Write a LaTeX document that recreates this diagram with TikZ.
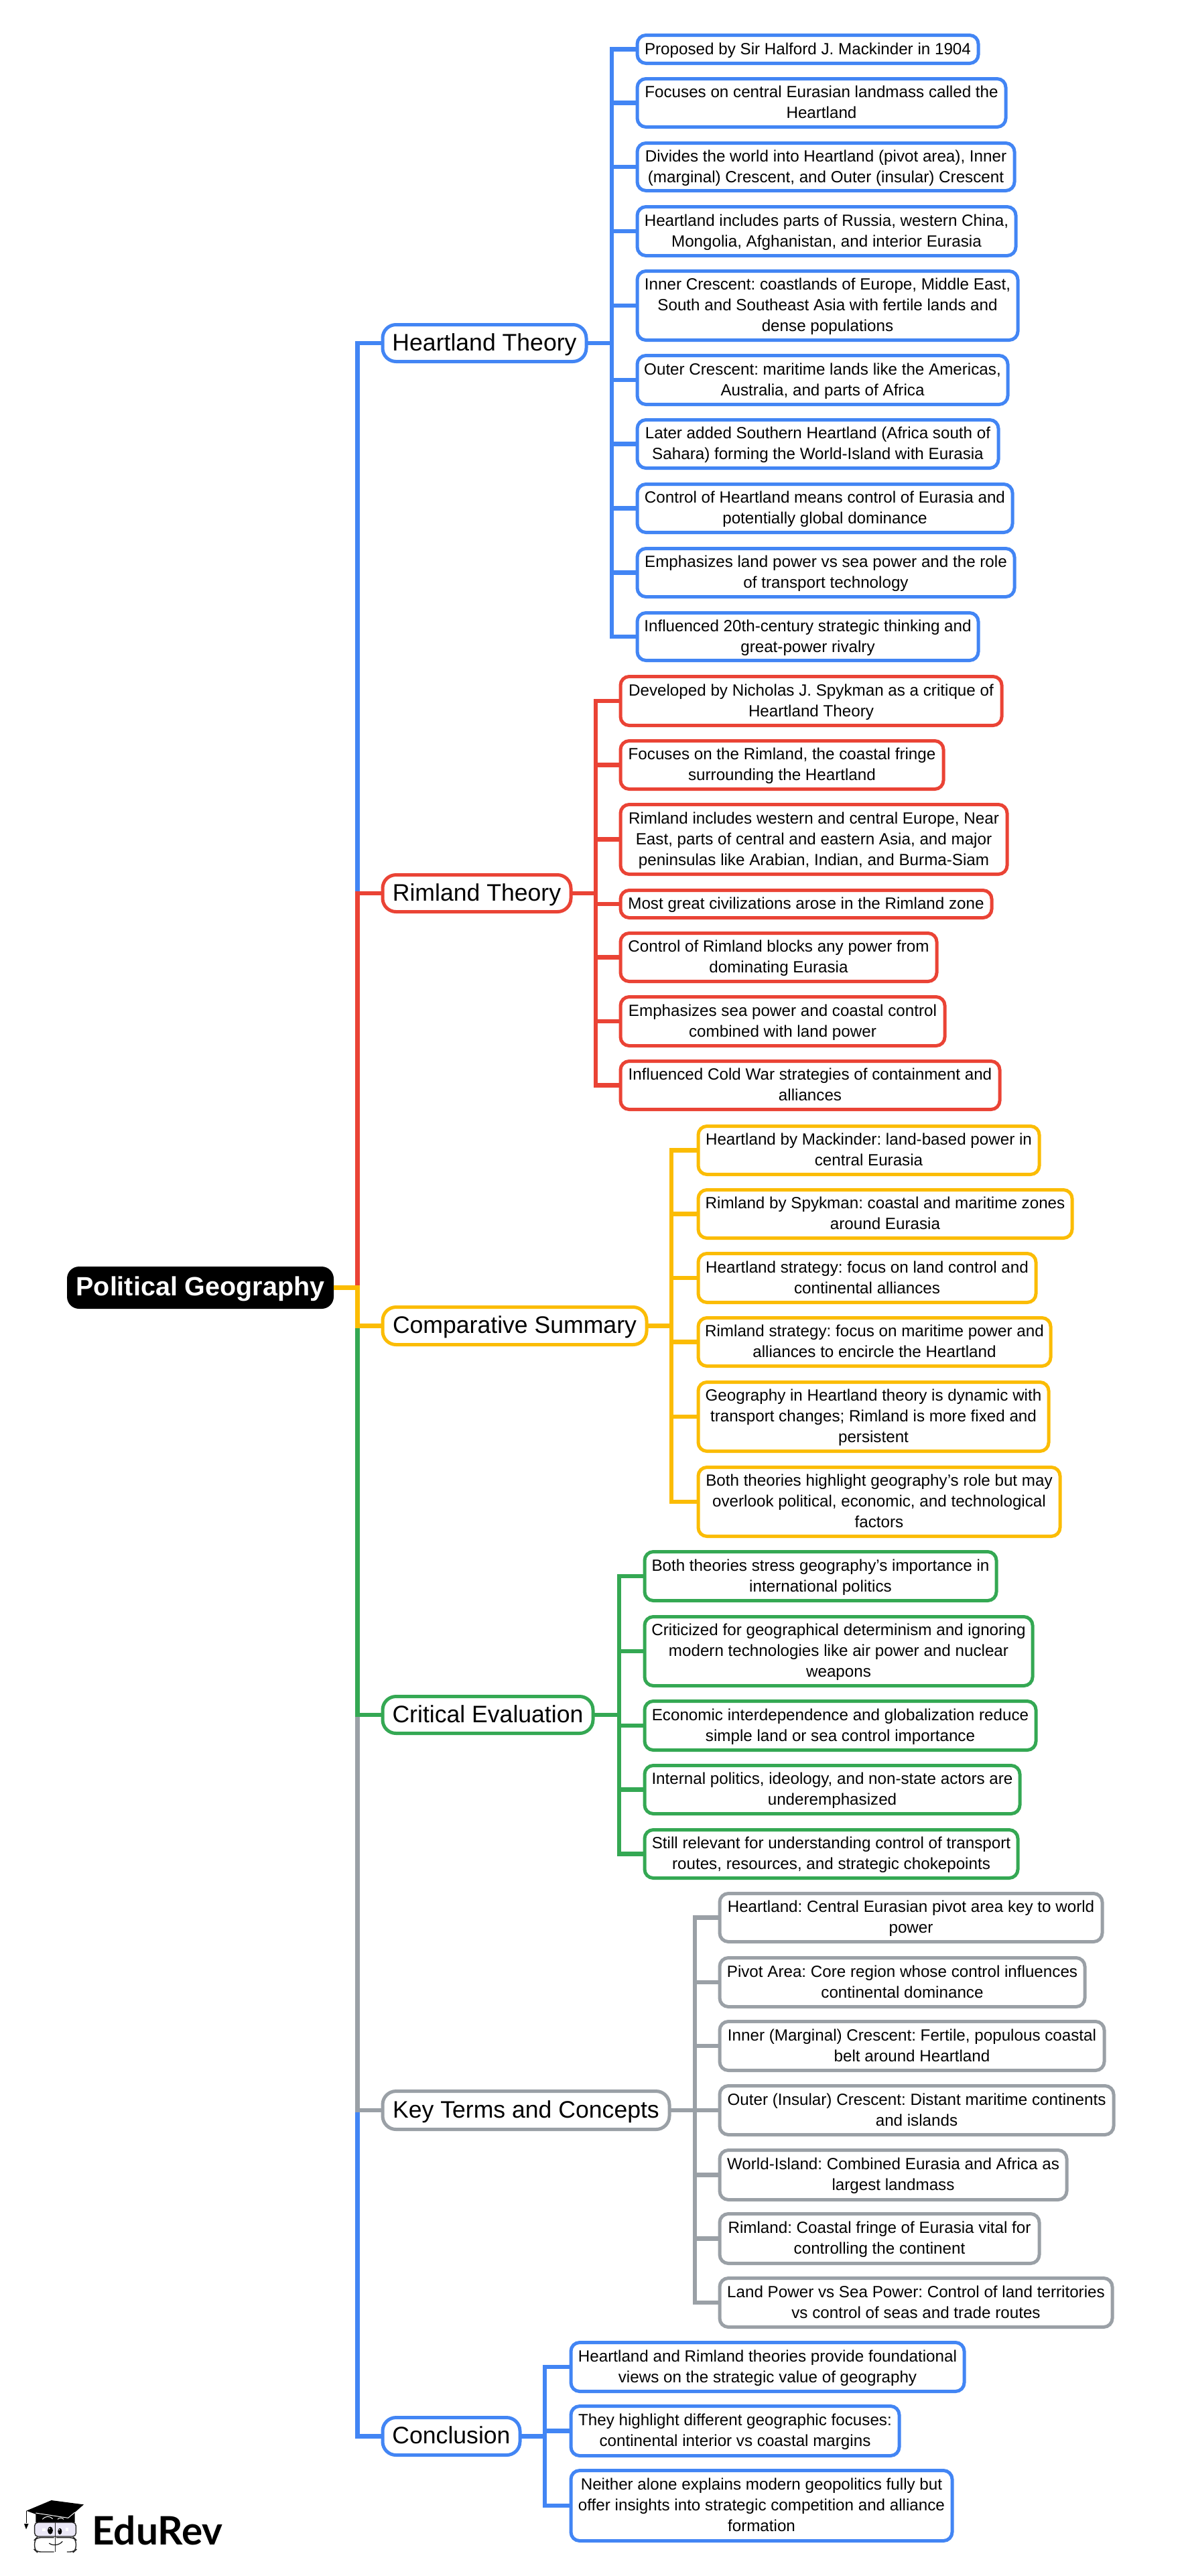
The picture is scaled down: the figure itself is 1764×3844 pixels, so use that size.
\documentclass[tikz,border=0pt]{standalone}
\usepackage{fontspec}
\setmainfont{Liberation Sans}
\newfontfamily\logofont{Lato}
\frenchspacing
\definecolor{cblue}{HTML}{4285F4}
\definecolor{cred}{HTML}{EA4335}
\definecolor{cyellow}{HTML}{FBBC04}
\definecolor{cgreen}{HTML}{34A853}
\definecolor{cgrey}{HTML}{9AA0A6}
\tikzset{
  boxbase/.style={draw=#1,fill=white,rounded corners=13pt,line width=5pt,align=center,inner sep=0pt,outer sep=0pt},
  kidbox/.style={boxbase=#1,font=\fontsize{24.2}{31}\selectfont},
  mainbox/.style={boxbase=#1,rounded corners=20pt,font=\fontsize{35.6}{40}\selectfont},
  rootbox/.style={fill=black,text=white,rounded corners=18pt,inner sep=0pt,outer sep=0pt,font=\fontsize{39.5}{44}\selectfont\bfseries},
  link/.style={draw=#1,line width=6.5pt,line join=miter},
}
\newcommand{\kstrut}{\rule[-7.6pt]{0pt}{31pt}}
\newcommand{\mstrut}{\rule[-9pt]{0pt}{40pt}}
% name, x1, y1, x2, y2, colour, text
\newcommand{\kid}[7]{\node[kidbox=#6,minimum width={(#4-#2)*1pt},minimum height={(#5-#3-3)*1pt}] (#1) at ({(#2+#4)/2},{(#3+#5)/2}) {\kstrut #7\kstrut};}
\newcommand{\branch}[7]{\node[mainbox=#6,minimum width={(#4-#2)*1pt},minimum height={(#5-#3-3)*1pt}] (#1) at ({(#2+#4)/2},{(#3+#5)/2}) {\mstrut #7};}
\begin{document}
\begin{tikzpicture}[x=1pt,y=-1pt]
\useasboundingbox[fill=white] (0,0) rectangle (1764,3844);

\node[rootbox,minimum width=398pt,minimum height=63pt] (root) at (299,1921.5) {\rule[-10pt]{0pt}{44pt}Political Geography};

% main branches
\branch{ht}{571}{483}{875}{541}{cblue}{Heartland Theory}
\branch{rt}{571}{1304}{852}{1362}{cred}{Rimland Theory}
\branch{cs}{571}{1949}{965}{2008}{cyellow}{Comparative Summary}
\branch{ce}{571}{2530}{885}{2588}{cgreen}{Critical Evaluation}
\branch{kt}{571}{3119}{999}{3179}{cgrey}{Key Terms and Concepts}
\branch{cn}{571}{3606}{776}{3665}{cblue}{Conclusion}

% Heartland
\kid{ha}{951}{51}{1460}{96}{cblue}{Proposed by Sir Halford J. Mackinder in 1904}
\kid{hb}{951}{116}{1501}{191}{cblue}{Focuses on central Eurasian landmass called the\\Heartland}
\kid{hc}{951}{212}{1514}{286}{cblue}{Divides the world into Heartland (pivot area), Inner\\(marginal) Crescent, and Outer (insular) Crescent}
\kid{hd}{951}{307}{1516}{383}{cblue}{Heartland includes parts of Russia, western China,\\Mongolia, Afghanistan, and interior Eurasia}
\kid{he}{951}{403}{1519}{509}{cblue}{Inner Crescent: coastlands of Europe, Middle East,\\South and Southeast Asia with fertile lands and\\dense populations}
\kid{hf}{951}{529}{1504}{605}{cblue}{Outer Crescent: maritime lands like the Americas,\\Australia, and parts of Africa}
\kid{hg}{951}{625}{1490}{700}{cblue}{Later added Southern Heartland (Africa south of\\Sahara) forming the World-Island with Eurasia}
\kid{hh}{951}{721}{1511}{796}{cblue}{Control of Heartland means control of Eurasia and\\potentially global dominance}
\kid{hi}{951}{817}{1514}{892}{cblue}{Emphasizes land power vs sea power and the role\\of transport technology}
\kid{hj}{951}{913}{1460}{987}{cblue}{Influenced 20th-century strategic thinking and\\great-power rivalry}

% Rimland
\kid{ra}{926}{1008}{1495}{1084}{cred}{Developed by Nicholas J. Spykman as a critique of\\Heartland Theory}
\kid{rb}{926}{1104}{1408}{1179}{cred}{Focuses on the Rimland, the coastal fringe\\surrounding the Heartland}
\kid{rc}{926}{1199}{1503}{1306}{cred}{Rimland includes western and central Europe, Near\\East, parts of central and eastern Asia, and major\\peninsulas like Arabian, Indian, and Burma-Siam}
\kid{rd}{926}{1327}{1480}{1371}{cred}{Most great civilizations arose in the Rimland zone}
\kid{re}{926}{1391}{1398}{1466}{cred}{Control of Rimland blocks any power from\\dominating Eurasia}
\kid{rf}{926}{1486}{1410}{1562}{cred}{Emphasizes sea power and coastal control\\combined with land power}
\kid{rg}{926}{1582}{1492}{1657}{cred}{Influenced Cold War strategies of containment and\\alliances}

% Comparative
\kid{sa}{1042}{1679}{1551}{1754}{cyellow}{Heartland by Mackinder: land-based power in\\central Eurasia}
\kid{sb}{1042}{1774}{1600}{1849}{cyellow}{Rimland by Spykman: coastal and maritime zones\\around Eurasia}
\kid{sc}{1042}{1869}{1546}{1945}{cyellow}{Heartland strategy: focus on land control and\\continental alliances}
\kid{sd}{1042}{1965}{1568}{2040}{cyellow}{Rimland strategy: focus on maritime power and\\alliances to encircle the Heartland}
\kid{se}{1042}{2061}{1565}{2167}{cyellow}{Geography in Heartland theory is dynamic with\\transport changes; Rimland is more fixed and\\persistent}
\kid{sf}{1042}{2188}{1582}{2294}{cyellow}{Both theories highlight geography's role but may\\overlook political, economic, and technological\\factors}

% Critical
\kid{ea}{962}{2314}{1487}{2390}{cgreen}{Both theories stress geography's importance in\\international politics}
\kid{eb}{962}{2411}{1541}{2517}{cgreen}{Criticized for geographical determinism and ignoring\\modern technologies like air power and nuclear\\weapons}
\kid{ec}{962}{2537}{1546}{2613}{cgreen}{Economic interdependence and globalization reduce\\simple land or sea control importance}
\kid{ed}{962}{2633}{1522}{2708}{cgreen}{Internal politics, ideology, and non-state actors are\\underemphasized}
\kid{ee}{962}{2729}{1519}{2804}{cgreen}{Still relevant for understanding control of transport\\routes, resources, and strategic chokepoints}

% Key terms
\kid{ka}{1074}{2824}{1645}{2899}{cgrey}{Heartland: Central Eurasian pivot area key to world\\power}
\kid{kb}{1074}{2920}{1619}{2996}{cgrey}{Pivot Area: Core region whose control influences\\continental dominance}
\kid{kc}{1074}{3015}{1648}{3091}{cgrey}{Inner (Marginal) Crescent: Fertile, populous coastal\\belt around Heartland}
\kid{kd}{1074}{3111}{1662}{3187}{cgrey}{Outer (Insular) Crescent: Distant maritime continents\\and islands}
\kid{ke}{1074}{3207}{1592}{3284}{cgrey}{World-Island: Combined Eurasia and Africa as\\largest landmass}
\kid{kf}{1074}{3302}{1551}{3379}{cgrey}{Rimland: Coastal fringe of Eurasia vital for\\controlling the continent}
\kid{kg}{1074}{3398}{1660}{3474}{cgrey}{Land Power vs Sea Power: Control of land territories\\vs control of seas and trade routes}

% Conclusion
\kid{na}{852}{3494}{1439}{3570}{cblue}{Heartland and Rimland theories provide foundational\\views on the strategic value of geography}
\kid{nb}{852}{3589}{1342}{3666}{cblue}{They highlight different geographic focuses:\\continental interior vs coastal margins}
\kid{nc}{852}{3685}{1421}{3793}{cblue}{Neither alone explains modern geopolitics fully but\\offer insights into strategic competition and alliance\\formation}

% bus and trunk junctions
\coordinate (trunk) at (533.5,1921.5);
\coordinate (hbus) at (913,512);
\coordinate (rbus) at (889,1333);
\coordinate (sbus) at (1002,1978.5);
\coordinate (ebus) at (924,2559);
\coordinate (kbus) at (1037,3149);
\coordinate (nbus) at (813,3635.5);

% connectors
\foreach \c in {ha,hb,hc,hd,he,hf,hg,hh,hi,hj} \draw[link=cblue] (ht.east) -- (hbus) |- (\c.west);
\foreach \c in {ra,rb,rc,rd,re,rf,rg} \draw[link=cred] (rt.east) -- (rbus) |- (\c.west);
\foreach \c in {sa,sb,sc,sd,se,sf} \draw[link=cyellow] (cs.east) -- (sbus) |- (\c.west);
\foreach \c in {ea,eb,ec,ed,ee} \draw[link=cgreen] (ce.east) -- (ebus) |- (\c.west);
\foreach \c in {ka,kb,kc,kd,ke,kf,kg} \draw[link=cgrey] (kt.east) -- (kbus) |- (\c.west);
\foreach \c in {na,nb,nc} \draw[link=cblue] (cn.east) -- (nbus) |- (\c.west);
\draw[link=cblue] (root.east) -- (trunk) |- (ht.west);
\draw[link=cred] (root.east) -- (trunk) |- (rt.west);
\draw[link=cblue] (root.east) -- (trunk) |- (cn.west);
\draw[link=cgrey] (root.east) -- (trunk) |- (kt.west);
\draw[link=cgreen] (root.east) -- (trunk) |- (ce.west);
\draw[link=cyellow] (root.east) -- (trunk) |- (cs.west);

% logo
\node[anchor=base west,inner sep=0pt,font=\fontsize{58.5}{60}\selectfont\logofont\bfseries] (brand) at (137,3797) {EduRev};
\begin{scope}[shift={(0,3650)},x=0.3333pt,y=-0.3333pt]
  \fill[black] (118,290) -- (230,243) -- (375,262) -- (335,297) -- (335,342) -- (160,342) -- (160,305) -- cycle;
  \draw[black,line width=1pt] (118,290) -- (118,345);
  \fill[black] (108,348) -- (128,348) -- (117,373) -- cycle;
  \draw[white,line width=1pt] (190,328) .. controls (205,312) and (222,312) .. (236,326);
  \draw[white,line width=1pt] (258,328) .. controls (265,320) and (278,320) .. (285,328);
  \draw[white,line width=1pt] (160,300) -- (305,322) -- (335,297);
  \draw[black!85,fill=cyan!12!blue!8,line width=1.4pt,rounded corners=5pt] (155,342) rectangle (340,405);
  \draw[black!85,line width=1.4pt,rounded corners=6pt] (242,410) -- (165,410) -- (155,420) -- (155,465) -- (165,474) -- (242,474);
  \draw[black!85,line width=1.4pt,rounded corners=6pt] (252,410) -- (330,410) -- (340,420) -- (340,465) -- (330,474) -- (300,474);
  \draw[black!85,line width=1.4pt] (247,340) -- (247,475);
  \fill[black] (225,378) ellipse (12 and 17);
  \fill[black] (268,382) ellipse (9 and 14);
  \fill[white] (221,370) circle (3);
  \fill[white] (265,375) circle (3);
  \fill[white] (190,369) rectangle (204,382);
  \fill[white] (293,367) rectangle (307,380);
  \draw[black,line width=1.1pt] (220,435) .. controls (235,448) and (265,445) .. (280,427);
\end{scope}
\end{tikzpicture}
\end{document}
